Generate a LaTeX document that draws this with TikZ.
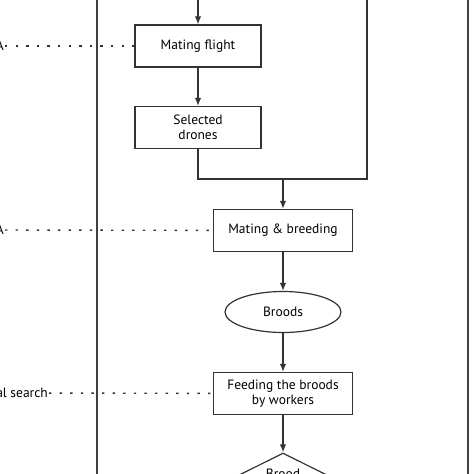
\documentclass[tikz,border=0pt]{standalone}
\usepackage{fontspec}
\setmainfont{PT Sans}
\usetikzlibrary{shapes, arrows.meta, calc, positioning}

\begin{document}
\begin{tikzpicture}[x=1pt, y=-1pt, >={Latex[length=8pt,width=6.5pt]},
    node distance=81.5pt, font=\fontsize{13.5}{15}\selectfont]
    \tikzstyle{format} = [draw=black!80, line width=1.2pt, rectangle,
	minimum width=126pt, minimum height=42pt, inner sep=2pt, align=center]
    \tikzstyle{wide} = [format, minimum width=139pt]
    \tikzstyle{oval} = [draw=black!80, line width=1.2pt, ellipse,
	minimum width=116pt, minimum height=41pt, inner sep=0pt]
    \tikzstyle{test} = [draw=black!80, line width=1.2pt, diamond, aspect=2,
	minimum width=84pt, minimum height=42pt, inner sep=0pt]
    \tikzstyle{link} = [draw=black!80, dash pattern=on 2.4pt off 8.2pt, line width=1.4pt]
    \tikzstyle{wall} = [draw=black!75, line width=1.6pt]

    \useasboundingbox (0,0) rectangle (474,474);

		\path
			node[format] (1) at (198,46) {Mating flight}
			node[format, below of=1] (2) {Selected\\drones}
			node[wide] (3) at (283,230.5) {Mating \& breeding}
			node[oval, below of=3] (4) {Broods}
			node[wide, below of=4] (5) {Feeding the broods\\by workers}
			node[test, below of=5, yshift=1pt] (6) {Brood}

			node[anchor=east, inner sep=1pt] (a) at (5,46) {A}
			node[anchor=east, inner sep=1pt] (b) at (5,230) {A}
			node[anchor=east, inner sep=1pt] (c) at (49,393) {Local search}
		;

		% free ends and corners
		\coordinate (in) at (198,-5);
		\coordinate (top) at (367,-5);
		\coordinate (corner) at (367,179);
		\coordinate (join) at (283,179);
		\coordinate (w1) at (97,-5);
		\coordinate (w2) at (97,479);
		\coordinate (w3) at (468,-5);
		\coordinate (w4) at (468,479);

		\draw[wall] (w1) -- (w2);
		\draw[wall] (w3) -- (w4);

		\path[->, black!80, line width=1.4pt]
			(in) edge (1)
			(1) edge (2)
			(join) edge (3)
			(3) edge (4)
			(4) edge (5)
			(5) edge (6)
		;
		\draw[black!80, line width=1.3pt] (2) |- (corner) -- (top);

		\draw[link] (a) -- (1);
		\draw[link] (b) -- (3);
		\draw[link] (c) -- (5);

\end{tikzpicture}
\end{document}
